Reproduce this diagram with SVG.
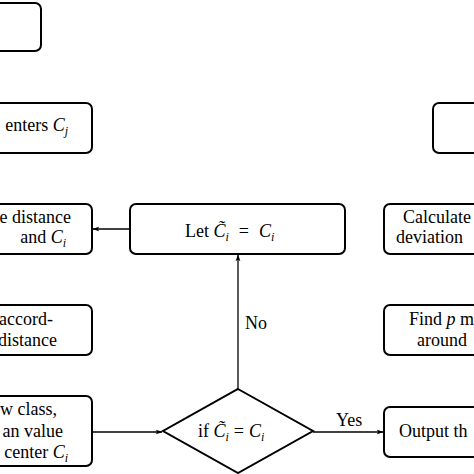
<svg xmlns="http://www.w3.org/2000/svg" width="474" height="474" viewBox="0 0 474 474">
<style>
.box{fill:#fff;stroke:#000;stroke-width:2}
text{font-family:'Liberation Serif','Times New Roman',serif;font-size:18px;fill:#000}
.m{font-style:italic}
.s{font-size:12px;font-style:italic}
.c{stroke:#000;stroke-width:1.3;fill:none}
</style>
<defs>
<marker id="ah" viewBox="0 0 10 10" refX="9" refY="5" markerWidth="7" markerHeight="7" orient="auto" markerUnits="userSpaceOnUse">
<path d="M0,1.5 L10,5 L0,8.5 L2.5,5 z" fill="#000"/>
</marker>
</defs>
<rect width="474" height="474" fill="#fff"/>
<g id="connectors">
<line class="c" x1="130" y1="229" x2="93" y2="229" marker-end="url(#ah)"/>
<line class="c" x1="238" y1="389" x2="238" y2="255" marker-end="url(#ah)"/>
<line class="c" x1="92" y1="432" x2="162" y2="432" marker-end="url(#ah)"/>
<line class="c" x1="313" y1="432" x2="383" y2="432" marker-end="url(#ah)"/>
<text x="245" y="329">No</text>
<text x="336" y="426">Yes</text>
</g>
<g id="n1"><rect class="box" x="-60" y="3" width="101" height="48" rx="6"/></g>
<g id="n2"><rect class="box" x="-100" y="103" width="192" height="50" rx="6"/>
<text x="68" y="131" text-anchor="end">enters <tspan class="m">C</tspan><tspan class="s" dy="4">j</tspan></text></g>
<g id="n3"><rect class="box" x="-100" y="204" width="192" height="50" rx="6"/>
<text x="71" y="223" text-anchor="end">e distance</text>
<text x="66" y="243" text-anchor="end">and <tspan class="m">C</tspan><tspan class="s" dy="4">i</tspan></text></g>
<g id="n4"><rect class="box" x="-100" y="305" width="192" height="50" rx="6"/>
<text x="53" y="325" text-anchor="end">accord-</text>
<text x="57" y="346" text-anchor="end">distance</text></g>
<g id="n5"><rect class="box" x="-100" y="396" width="192" height="70" rx="6"/>
<text x="57" y="415" text-anchor="end">w class,</text>
<text x="63" y="437" text-anchor="end">an value</text>
<text x="68" y="458" text-anchor="end">center <tspan class="m">C</tspan><tspan class="s" dy="4">i</tspan></text></g>
<g id="let"><rect class="box" x="130" y="204" width="215" height="50" rx="6"/>
<text x="185" y="237">Let <tspan class="m">C̃</tspan><tspan class="s" dy="4">i</tspan><tspan dy="-4" dx="10">=</tspan><tspan class="m" dx="10">C</tspan><tspan class="s" dy="4">i</tspan></text></g>
<g id="decision"><polygon class="box" points="238,389 313,431 238,473 163,431"/>
<text x="198" y="437">if <tspan class="m">C̃</tspan><tspan class="s" dy="4">i</tspan><tspan dy="-4" dx="5">=</tspan><tspan class="m" dx="5">C</tspan><tspan class="s" dy="4">i</tspan></text></g>
<g id="r1"><rect class="box" x="433" y="103" width="100" height="50" rx="6"/></g>
<g id="r2"><rect class="box" x="384" y="204" width="150" height="50" rx="6"/>
<text x="403" y="223">Calculate</text>
<text x="396" y="243">deviation</text></g>
<g id="r3"><rect class="box" x="384" y="305" width="150" height="50" rx="6"/>
<text x="409" y="325">Find <tspan class="m">p</tspan> m</text>
<text x="417" y="346">around</text></g>
<g id="r4"><rect class="box" x="384" y="407" width="150" height="50" rx="6"/>
<text x="399" y="437">Output th</text></g>
</svg>
